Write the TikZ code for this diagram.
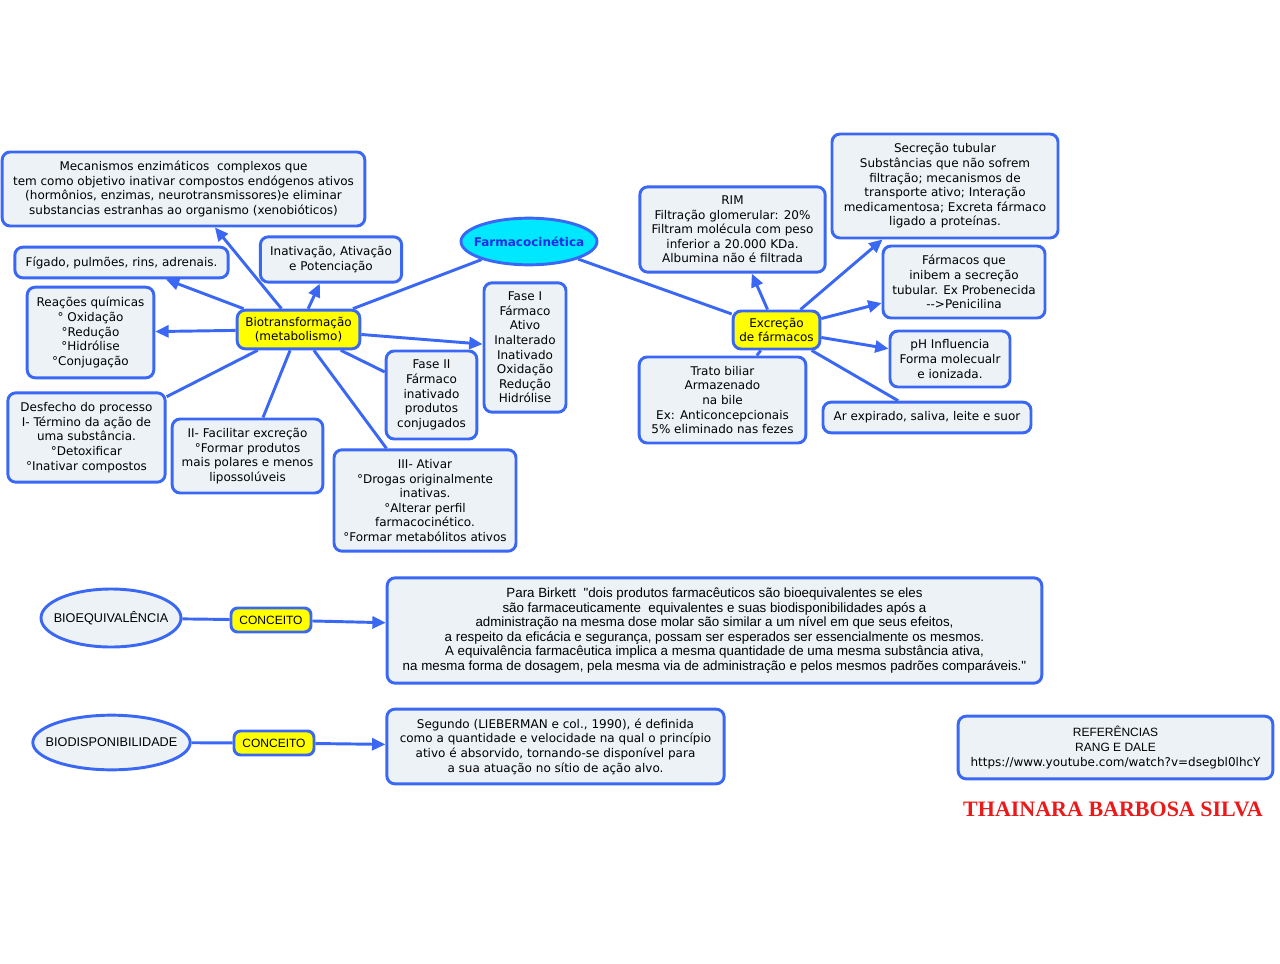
\documentclass[tikz,border=0pt]{standalone}
\usepackage{fontspec}
\setmainfont{DejaVu Sans}
\newfontfamily\arialfont{Liberation Sans}
\newfontfamily\titlefont{Liberation Serif}
\usetikzlibrary{arrows.meta,shapes.geometric}
\definecolor{mapblue}{RGB}{58,104,245}
\definecolor{boxfill}{RGB}{236,242,246}
\definecolor{hubyellow}{RGB}{255,255,0}
\definecolor{ovalcyan}{RGB}{0,232,255}
\definecolor{farmablue}{RGB}{25,45,230}
\definecolor{titlered}{RGB}{235,25,25}
\tikzset{
  box/.style={draw=mapblue, fill=boxfill, line width=2.2pt, rounded corners=6pt,
    align=center, inner sep=2pt, font=\fontsize{9}{10.95}\selectfont},
  hub/.style={box, fill=hubyellow},
  oval/.style={ellipse, draw=mapblue, fill=boxfill, line width=2.2pt, inner xsep=-12pt, inner ysep=0pt},
  link/.style={mapblue, line width=2.2pt},
  arrowlink/.style={link, -{Triangle[length=10pt,width=9pt]}},
}

\begin{document}
\begin{tikzpicture}[x=0.75pt, y=-0.75pt]
  \useasboundingbox (0,0) rectangle (1280,963);
  % Centre
  \node[oval, fill=ovalcyan, minimum width=102pt, minimum height=35pt,
    font=\bfseries\fontsize{9}{10}\selectfont, text=farmablue] (farmaco) at (529,241.5) {Farmacocinética};

  % Left: biotransformation
  \node[hub, minimum width=92pt, minimum height=29pt] (bio) at (298.5,329.5) {Biotransformação\\(metabolismo)};
  \node[box, minimum width=272pt, minimum height=55.5pt] (mech) at (183.5,189)
    {Mecanismos enzimáticos\ \ complexos que\\tem como objetivo inativar compostos endógenos ativos\\(hormônios, enzimas, neurotransmissores)e eliminar\\substancias estranhas ao organismo (xenobióticos)};
  \node[box, minimum width=106pt, minimum height=34pt] (inat) at (331,259.5) {Inativação, Ativação\\e Potenciação};
  \node[box, minimum width=160pt, minimum height=23pt] (orgaos) at (121.5,262.5) {Fígado, pulmões, rins, adrenais.};
  \node[box, minimum width=95pt, minimum height=68pt] (reacoes) at (90.5,332.5)
    {Reações químicas\\° Oxidação\\°Redução\\°Hidrólise\\°Conjugação};
  \node[box, minimum width=118pt, minimum height=67pt] (desfecho) at (86.5,437.5)
    {Desfecho do processo\\I- Término da ação de\\uma substância.\\°Detoxificar\\°Inativar compostos};
  \node[box, minimum width=113pt, minimum height=55.5pt] (excretar) at (247.5,456)
    {II- Facilitar excreção\\°Formar produtos\\mais polares e menos\\lipossolúveis};
  \node[box, minimum width=68pt, minimum height=66pt] (fasedois) at (431.5,395)
    {Fase II\\Fármaco\\inativado\\produtos\\conjugados};
  \node[box, minimum width=61.5pt, minimum height=97pt] (faseum) at (525,347.5)
    {Fase I\\Fármaco\\Ativo\\Inalterado\\Inativado\\Oxidação\\Redução\\Hidrólise};
  \node[box, minimum width=136.5pt, minimum height=76pt] (ativar) at (425,500.5)
    {III- Ativar\\°Drogas originalmente\\inativas.\\°Alterar perfil\\farmacocinético.\\°Formar metabólitos ativos};

  % Right: excretion
  \node[hub, minimum width=65pt, minimum height=28.5pt] (excr) at (776.5,330) {Excreção\\de fármacos};
  \node[box, minimum width=139pt, minimum height=64pt] (rim) at (732.5,229.5)
    {RIM\\Filtração glomerular: 20\%\\Filtram molécula com peso\\inferior a 20.000 KDa.\\Albumina não é filtrada};
  \node[box, minimum width=169.5pt, minimum height=78pt] (secrecao) at (945,186)
    {Secreção tubular\\Substâncias que não sofrem\\filtração; mecanismos de\\transporte ativo; Interação\\medicamentosa; Excreta fármaco\\ligado a proteínas.};
  \node[box, minimum width=121.5pt, minimum height=54pt] (inibem) at (964,282)
    {Fármacos que\\inibem a secreção\\tubular. Ex Probenecida\\-{}->Penicilina};
  \node[box, minimum width=90pt, minimum height=42pt] (ph) at (950,359)
    {pH Influencia\\Forma molecualr\\e ionizada.};
  \node[box, minimum width=125pt, minimum height=64.5pt] (biliar) at (722.5,400)
    {Trato biliar\\Armazenado\\na bile\\Ex: Anticoncepcionais\\5\% eliminado nas fezes};
  \node[box, minimum width=156pt, minimum height=23pt] (ar) at (927,417.5) {Ar expirado, saliva, leite e suor};

  \draw[link] (farmaco) -- (bio);
  \draw[link] (farmaco) -- (excr);
  \foreach \dst in {mech, inat, orgaos, reacoes, faseum}
    \draw[arrowlink] (bio) -- (\dst);
  \foreach \dst in {desfecho, excretar, fasedois, ativar}
    \draw[link] (bio) -- (\dst);
  \foreach \dst in {rim, secrecao, inibem, ph}
    \draw[arrowlink] (excr) -- (\dst);
  \foreach \dst in {biliar, ar}
    \draw[link] (excr) -- (\dst);

  % Bottom: concepts
  \node[oval, minimum width=105pt, minimum height=43.5pt, font=\arialfont\fontsize{9.5}{11}\selectfont] (bioeq) at (111,618) {BIOEQUIVALÊNCIA};
  \node[hub, rounded corners=5pt, minimum width=60pt, minimum height=18pt, inner sep=1pt, font=\arialfont\fontsize{9}{11}\selectfont] (conceitoa) at (271,620) {CONCEITO};
  \node[box, minimum width=491pt, minimum height=79pt, font=\arialfont\fontsize{10}{10.95}\selectfont] (birkett) at (714.5,630.5)
    {Para Birkett\ \ "dois produtos farmacêuticos são bioequivalentes se eles\\são farmaceuticamente\ \ equivalentes e suas biodisponibilidades após a\\administração na mesma dose molar são similar a um nível em que seus efeitos,\\a respeito da eficácia e segurança, possam ser esperados ser essencialmente os mesmos.\\A equivalência farmacêutica implica a mesma quantidade de uma mesma substância ativa,\\na mesma forma de dosagem, pela mesma via de administração e pelos mesmos padrões comparáveis."};
  \draw[link] (bioeq) -- (conceitoa);
  \draw[arrowlink] (conceitoa) -- (birkett);

  \node[oval, minimum width=118pt, minimum height=41pt, font=\arialfont\fontsize{9.5}{11}\selectfont] (biodisp) at (111.5,742.5) {BIODISPONIBILIDADE};
  \node[hub, rounded corners=5pt, minimum width=60pt, minimum height=18pt, inner sep=1pt, font=\arialfont\fontsize{9}{11}\selectfont] (conceitob) at (274,743) {CONCEITO};
  \node[box, minimum width=253pt, minimum height=56pt] (segundo) at (555.5,746.5)
    {Segundo (LIEBERMAN e col., 1990), é definida\\como a quantidade e velocidade na qual o princípio\\ativo é absorvido, tornando-se disponível para\\a sua atuação no sítio de ação alvo.};
  \draw[link] (biodisp) -- (conceitob);
  \draw[arrowlink] (conceitob) -- (segundo);

  % References and author
  \node[box, minimum width=236pt, minimum height=47pt] (refs) at (1115.5,747.5)
    {{\arialfont REFERÊNCIAS}\\{\arialfont RANG E DALE}\\https://www.youtube.com/watch?v=dsegbl0lhcY};
  \node[font=\titlefont\bfseries\fontsize{16.5}{18}\selectfont, text=titlered] (autora) at (1113,809) {THAINARA BARBOSA SILVA};
\end{tikzpicture}
\end{document}
